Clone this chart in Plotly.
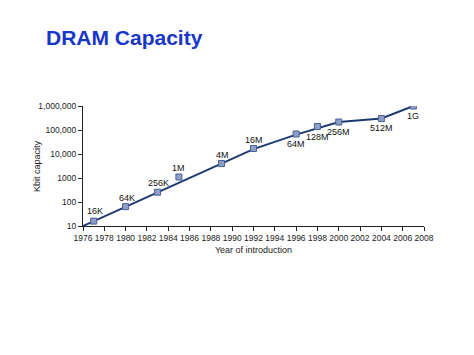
import math
import plotly.graph_objects as go

# Data
chip_years = [1977, 1980, 1983, 1985, 1989, 1992, 1996, 1998, 2000, 2004, 2007]
chip_kbit = [16, 64, 256, 1100, 4000, 17000, 68000, 140000, 215000, 300000, 1000000]
chip_labels = ["16K", "64K", "256K", "1M", "4M", "16M", "64M", "128M", "256M", "512M", "1G"]

trend_years = [1976, 1992, 1996, 2000, 2004, 2007]
trend_kbit = [10, 16000, 64000, 215000, 300000, 1000000]

ytick_vals = [10, 100, 1000, 10000, 100000, 1000000]
ytick_text = ["10", "100", "1000", "10,000", "100,000", "1,000,000"]

# label offsets (px) relative to each marker
label_dx = [1, 1, 1, 0, 1, 0, 0, 0, 0, 0, 0]
label_dy = [10, 9, 9, 9, 9, 8, -10, -11, -10, -9, -10]

FONT = "Liberation Sans, Arial, Helvetica, sans-serif"

fig = go.Figure()
fig.add_trace(go.Scatter(
    x=trend_years, y=trend_kbit, mode="lines",
    line=dict(color="#1d3a70", width=2), hoverinfo="skip", showlegend=False))
fig.add_trace(go.Scatter(
    x=chip_years, y=chip_kbit, mode="markers",
    marker=dict(symbol="square", size=6, color="#8c9ec9",
                line=dict(color="#4a5f94", width=1)),
    showlegend=False))

for x, y, t, dx, dy in zip(chip_years, chip_kbit, chip_labels, label_dx, label_dy):
    fig.add_annotation(x=x, y=math.log10(y), text=t, showarrow=False, xshift=dx, yshift=dy,
                       font=dict(family=FONT, size=9, color="#111111"))

fig.add_annotation(xref="paper", yref="paper", x=-0.114, y=1.567, xanchor="left",
                   yanchor="middle", text="<b>DRAM Capacity</b>", showarrow=False,
                   font=dict(family=FONT, size=21, color="#1836c8"))

fig.add_annotation(xref="paper", yref="paper", x=-0.135, y=0.5, xanchor="center",
                   yanchor="middle", text="Kbit capacity", textangle=-90, showarrow=False,
                   font=dict(family=FONT, size=9, color="#222222"))

fig.update_layout(
    width=474, height=355,
    margin=dict(l=75, r=58, t=98, b=137),
    paper_bgcolor="white", plot_bgcolor="white",
    font=dict(family=FONT, size=8.5, color="#222222"),
    xaxis=dict(range=[1976, 2008], tickmode="linear", tick0=1976, dtick=2,
               showline=True, linecolor="#222222", linewidth=1.2,
               ticks="outside", ticklen=4, tickcolor="#222222",
               showgrid=False, zeroline=False,
               title=dict(text="Year of introduction", standoff=4,
                          font=dict(family=FONT, size=9))),
    yaxis=dict(type="log", range=[1, 6], tickvals=ytick_vals, ticktext=ytick_text,
               showline=True, linecolor="#222222", linewidth=1.2,
               ticks="outside", ticklen=4, tickcolor="#222222",
               showgrid=False, zeroline=False),
)

fig.write_html("out.html")
